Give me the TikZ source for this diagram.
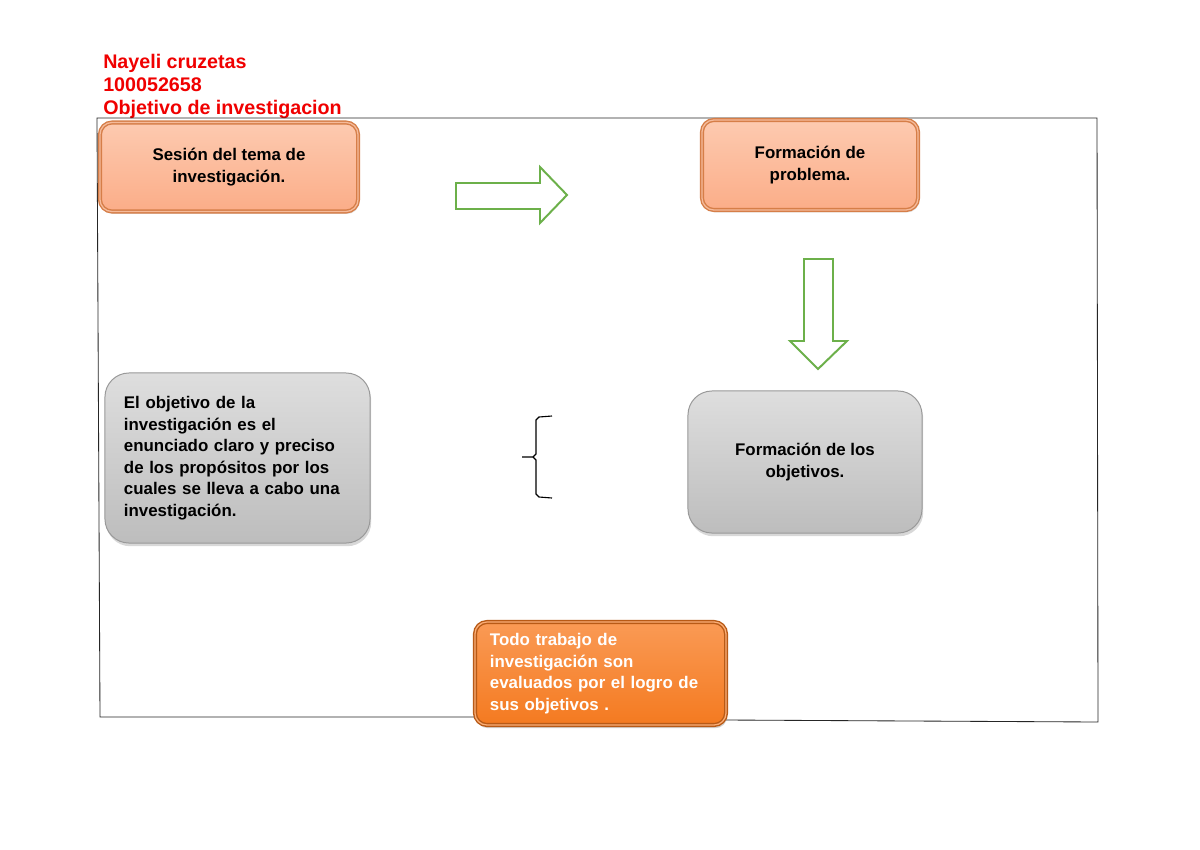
\documentclass[tikz,border=0pt]{standalone}
\usepackage{fontspec}
\setmainfont{Liberation Sans}
\usetikzlibrary{shadows}

\definecolor{peachtop}{HTML}{FDCAB0}
\definecolor{peachbot}{HTML}{FBAD88}
\definecolor{peachline}{HTML}{D67E48}
\definecolor{graytop}{HTML}{DEDEDE}
\definecolor{graybot}{HTML}{BDBDBD}
\definecolor{grayline}{HTML}{999999}
\definecolor{orangetop}{HTML}{FA9A55}
\definecolor{orangebot}{HTML}{F47A20}
\definecolor{orangeline}{HTML}{B85A16}
\definecolor{arrowgreen}{HTML}{6CB04A}
\definecolor{titlered}{HTML}{F00000}

\tikzset{
  peachbox/.style={draw=peachline, double=peachtop!80!peachline, double distance=0.9pt,
    line width=1pt, rounded corners=0.3cm, top color=peachtop, bottom color=peachbot,
    font=\fontsize{12}{15.3}\selectfont\bfseries, align=center,
    drop shadow={opacity=0.25, shadow xshift=0.03cm, shadow yshift=-0.06cm}},
  graybox/.style={draw=grayline, line width=0.7pt, rounded corners=0.6cm,
    top color=graytop, bottom color=graybot,
    font=\fontsize{12}{15.3}\selectfont\bfseries,
    drop shadow={opacity=0.3, shadow xshift=0.03cm, shadow yshift=-0.08cm}},
  orangebox/.style={draw=orangeline, double=orangetop!80!white, double distance=0.9pt,
    line width=1pt, rounded corners=0.3cm, top color=orangetop, bottom color=orangebot,
    text=white, font=\fontsize{12}{15.3}\selectfont\bfseries,
    drop shadow={opacity=0.35, shadow xshift=0.03cm, shadow yshift=-0.08cm}},
  blockarrow/.style={draw=arrowgreen, line width=1.4pt, fill=white},
  frame/.style={draw=black!85, line width=0.6pt},
}

\begin{document}
\begin{tikzpicture}[x=0.025cm, y=-0.025cm]
  \useasboundingbox[fill=white] (0,0) rectangle (1200,849);

  % encabezado
  \node[anchor=north west, inner sep=0pt, align=left, text=titlered,
    font=\fontsize{14}{16.3}\selectfont\bfseries] (autor) at (103,54)
    {Nayeli cruzetas\\100052658\\Objetivo de investigacion};

  % marco
  \draw[frame] (475,717) -- (100,717) -- (97,118) -- (1097,118) -- (1098,722) -- (726,720);

  % cajas
  \node[peachbox, minimum width=6.45cm, minimum height=2.225cm] (sesion) at (229,167)
    {Sesión del tema de\\investigación.};
  \node[peachbox, minimum width=5.4cm, minimum height=2.25cm] (problema) at (810,165)
    {Formación de\\problema.};
  \node[graybox, minimum width=6.625cm, minimum height=4.25cm, text width=5.675cm,
    inner xsep=0.475cm, align=left] (definicion) at (237.5,458)
    {El objetivo de la\\investigación es el\\enunciado claro y preciso\\de los propósitos por los\\cuales se lleva a cabo una\\investigación.};
  \node[graybox, minimum width=5.85cm, minimum height=3.55cm, align=center] (objetivos) at (805,462)
    {Formación de los\\objetivos.};
  \node[orangebox, minimum width=6.275cm, minimum height=2.575cm, text width=5.525cm,
    inner xsep=0.375cm, align=left] (evaluacion) at (600.5,673.5)
    {Todo trabajo de\\investigación son\\evaluados por el logro de\\sus objetivos .};

  % flechas
  \draw[blockarrow] (456,183) -- (540,183) -- (540,167) -- (567,195) -- (540,223)
    -- (540,209) -- (456,209) -- cycle;
  \draw[blockarrow] (804,259) -- (833,259) -- (833,341) -- (847,341) -- (818,369)
    -- (790,341) -- (804,341) -- cycle;

  % llave
  \draw[line width=0.8pt] (552,416) -- (539,417) -- (536,420) -- (536,454) -- (533,457)
    -- (522,457);
  \draw[line width=0.8pt] (533,457) -- (536,460) -- (536,494) -- (539,497) -- (552,498);
\end{tikzpicture}
\end{document}
